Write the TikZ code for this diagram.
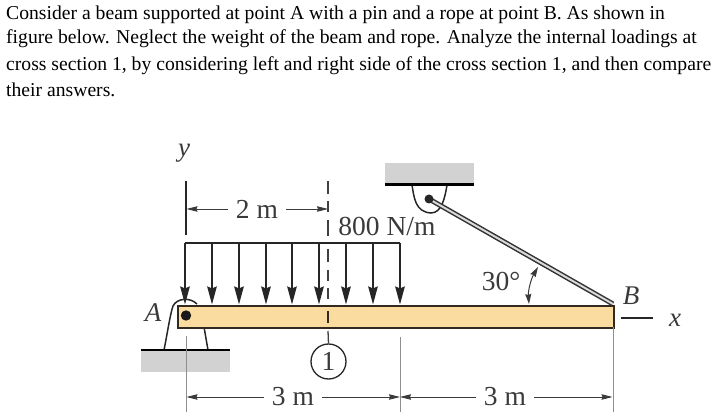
\documentclass[tikz,border=0pt]{standalone}
\usepackage{fontspec}
\setmainfont{Liberation Serif}
\usetikzlibrary{arrows.meta}
\definecolor{beamfill}{HTML}{FADCA0}
\definecolor{beamedge}{HTML}{33291F}
\definecolor{groundgray}{HTML}{D2D2D2}
\definecolor{figtext}{HTML}{3A3A3A}
\definecolor{dimgray}{HTML}{8E8E8E}
\tikzset{
  x=1pt,y=-1pt,
  para/.style={anchor=base west,inner sep=0pt,font=\fontsize{19.65}{21}\selectfont,text=black},
  lab/.style={inner sep=0pt,font=\fontsize{27.5}{29}\selectfont,text=figtext},
  ital/.style={inner sep=0pt,font=\fontsize{27}{29}\selectfont\itshape,text=figtext},
  ext/.style={draw=dimgray,line width=1pt},
  dimarrow/.style={draw=figtext,line width=0.9pt,-{Stealth[length=11pt,width=5.5pt,inset=1pt]}},
  loadarrow/.style={draw=black!85,line width=1.9pt,-{Stealth[length=18pt,width=9.5pt,inset=2pt]}},
  bline/.style={draw=black!85,line width=1.5pt},
  axisline/.style={draw=black!85,line width=1.5pt},
  secline/.style={draw=black!75,line width=1.3pt},
  ground/.style={fill=groundgray,draw=none},
}
\begin{document}
\begin{tikzpicture}
\useasboundingbox (0,0) rectangle (716,417);
% paragraph
\node[para] (l1) at (6,20) {Consider a beam supported at point A with a pin and a rope at point B. As shown in};
\node[para] (l2) at (6,44) {figure below. Neglect the weight of the beam and rope. Analyze the internal loadings at};
\node[para] (l3) at (6,70.5) {cross section 1, by considering left and right side of the cross section 1, and then compare};
\node[para] (l4) at (6,96.5) {their answers.};
% grounds
\fill[ground] (141,351) rectangle (230,372);
\fill[ground] (385,163) rectangle (474,184);
% support A
\draw[bline] (164,350) .. controls (168,330) and (170,315) .. (173,306) .. controls (177,298) and (190,297) .. (197,304);
\draw[bline] (204,327) -- (208,350);
\draw[draw=black,line width=2pt] (141,350) -- (230,350);
% support top
\draw[bline] (412,185) .. controls (414,197) and (415,212) .. (431,213) .. controls (442,213) and (445,197) .. (447,185);
\draw[draw=black,line width=2.6pt] (385,184.5) -- (474,184.5);
% rope
\coordinate (ropeA) at (429,199);
\coordinate (ropeB) at (613,304);
\draw[draw=black!80,line width=5pt] (ropeA) -- (ropeB);
\draw[draw=white!85!black,line width=2pt] (ropeA) -- (ropeB);
\fill[black!85] (ropeA) circle (4.5);
% load
\draw[bline,line width=2pt] (185,243) -- (400,243);
\foreach \i/\px in {a/185,b/212,c/239,d/266,e/292,f/319,g/346,h/373,i/400}{
  \coordinate (t\i) at (\px,243);
  \coordinate (b\i) at (\px,304.5);
  \draw[loadarrow] (t\i) -- (b\i);
}
% axis & section lines
\draw[axisline] (186,181) -- (186,235);
\foreach \ya/\yb in {181/194,201/212,220/236,249/262,270/281,288/299}{
  \draw[secline] (328,\ya) -- (328,\yb);
}
% beam
\node[draw=beamedge,fill=beamfill,line width=2.2pt,minimum width=436pt,minimum height=22pt,inner sep=0pt,anchor=north west] (beam) at (177,305) {};
\fill[black!90] (186,315.5) circle (5.2);
\draw[draw=beamedge,line width=1.4pt] (328,311) -- (328,323);
% section marker
\node[draw=black!85,circle,line width=1.3pt,minimum size=35pt,inner sep=0pt,lab] (sec) at (328.5,361.5) {1};
\coordinate (secTop) at (328,331);
\draw[secline] (secTop) -- (sec.north);
% extension lines
\draw[ext] (186,336) -- (186,412);
\draw[ext] (400,337) -- (400,412);
\draw[ext] (613,327) -- (613,412);
% dimensions
\node[lab] (d2) at (257,209) {2 m};
\coordinate (d2L) at (186.5,209);
\coordinate (d2R) at (328,209);
\draw[dimarrow] (d2.west) ++(-8,0) -- (d2L);
\draw[dimarrow] (d2.east) ++(8,0) -- (d2R);
\node[lab] (d3a) at (293,397) {3 m};
\node[lab] (d3b) at (505,397) {3 m};
\coordinate (d3L) at (186.5,397);
\coordinate (d3M) at (400,397);
\coordinate (d3R) at (612.5,397);
\draw[dimarrow] (d3a.west) ++(-8,0) -- (d3L);
\draw[dimarrow] (d3a.east) ++(8,0) -- (d3M);
\draw[dimarrow] (d3b.west) ++(-8,0) -- (d3M);
\draw[dimarrow] (d3b.east) ++(8,0) -- (d3R);
% angle
\coordinate (angA) at (529,304);
\coordinate (angB) at (538,267);
\draw[draw=figtext,line width=1pt,{Stealth[length=10pt,width=6pt,inset=1pt]}-{Stealth[length=10pt,width=6pt,inset=1pt]}] (angA) .. controls (528,291) and (531,279) .. (angB);
% labels
\node[lab] (load) at (387,226) {800 N/m};
\node[lab] (ang) at (501,281) {30°};
\node[ital] (lA) at (153,313) {A};
\node[ital] (lB) at (631,296) {B};
\node[ital] (lx) at (675,320) {x};
\node[ital] (ly) at (184,153) {y};
\draw[axisline] (621,318) -- (653,318);
\end{tikzpicture}
\end{document}
